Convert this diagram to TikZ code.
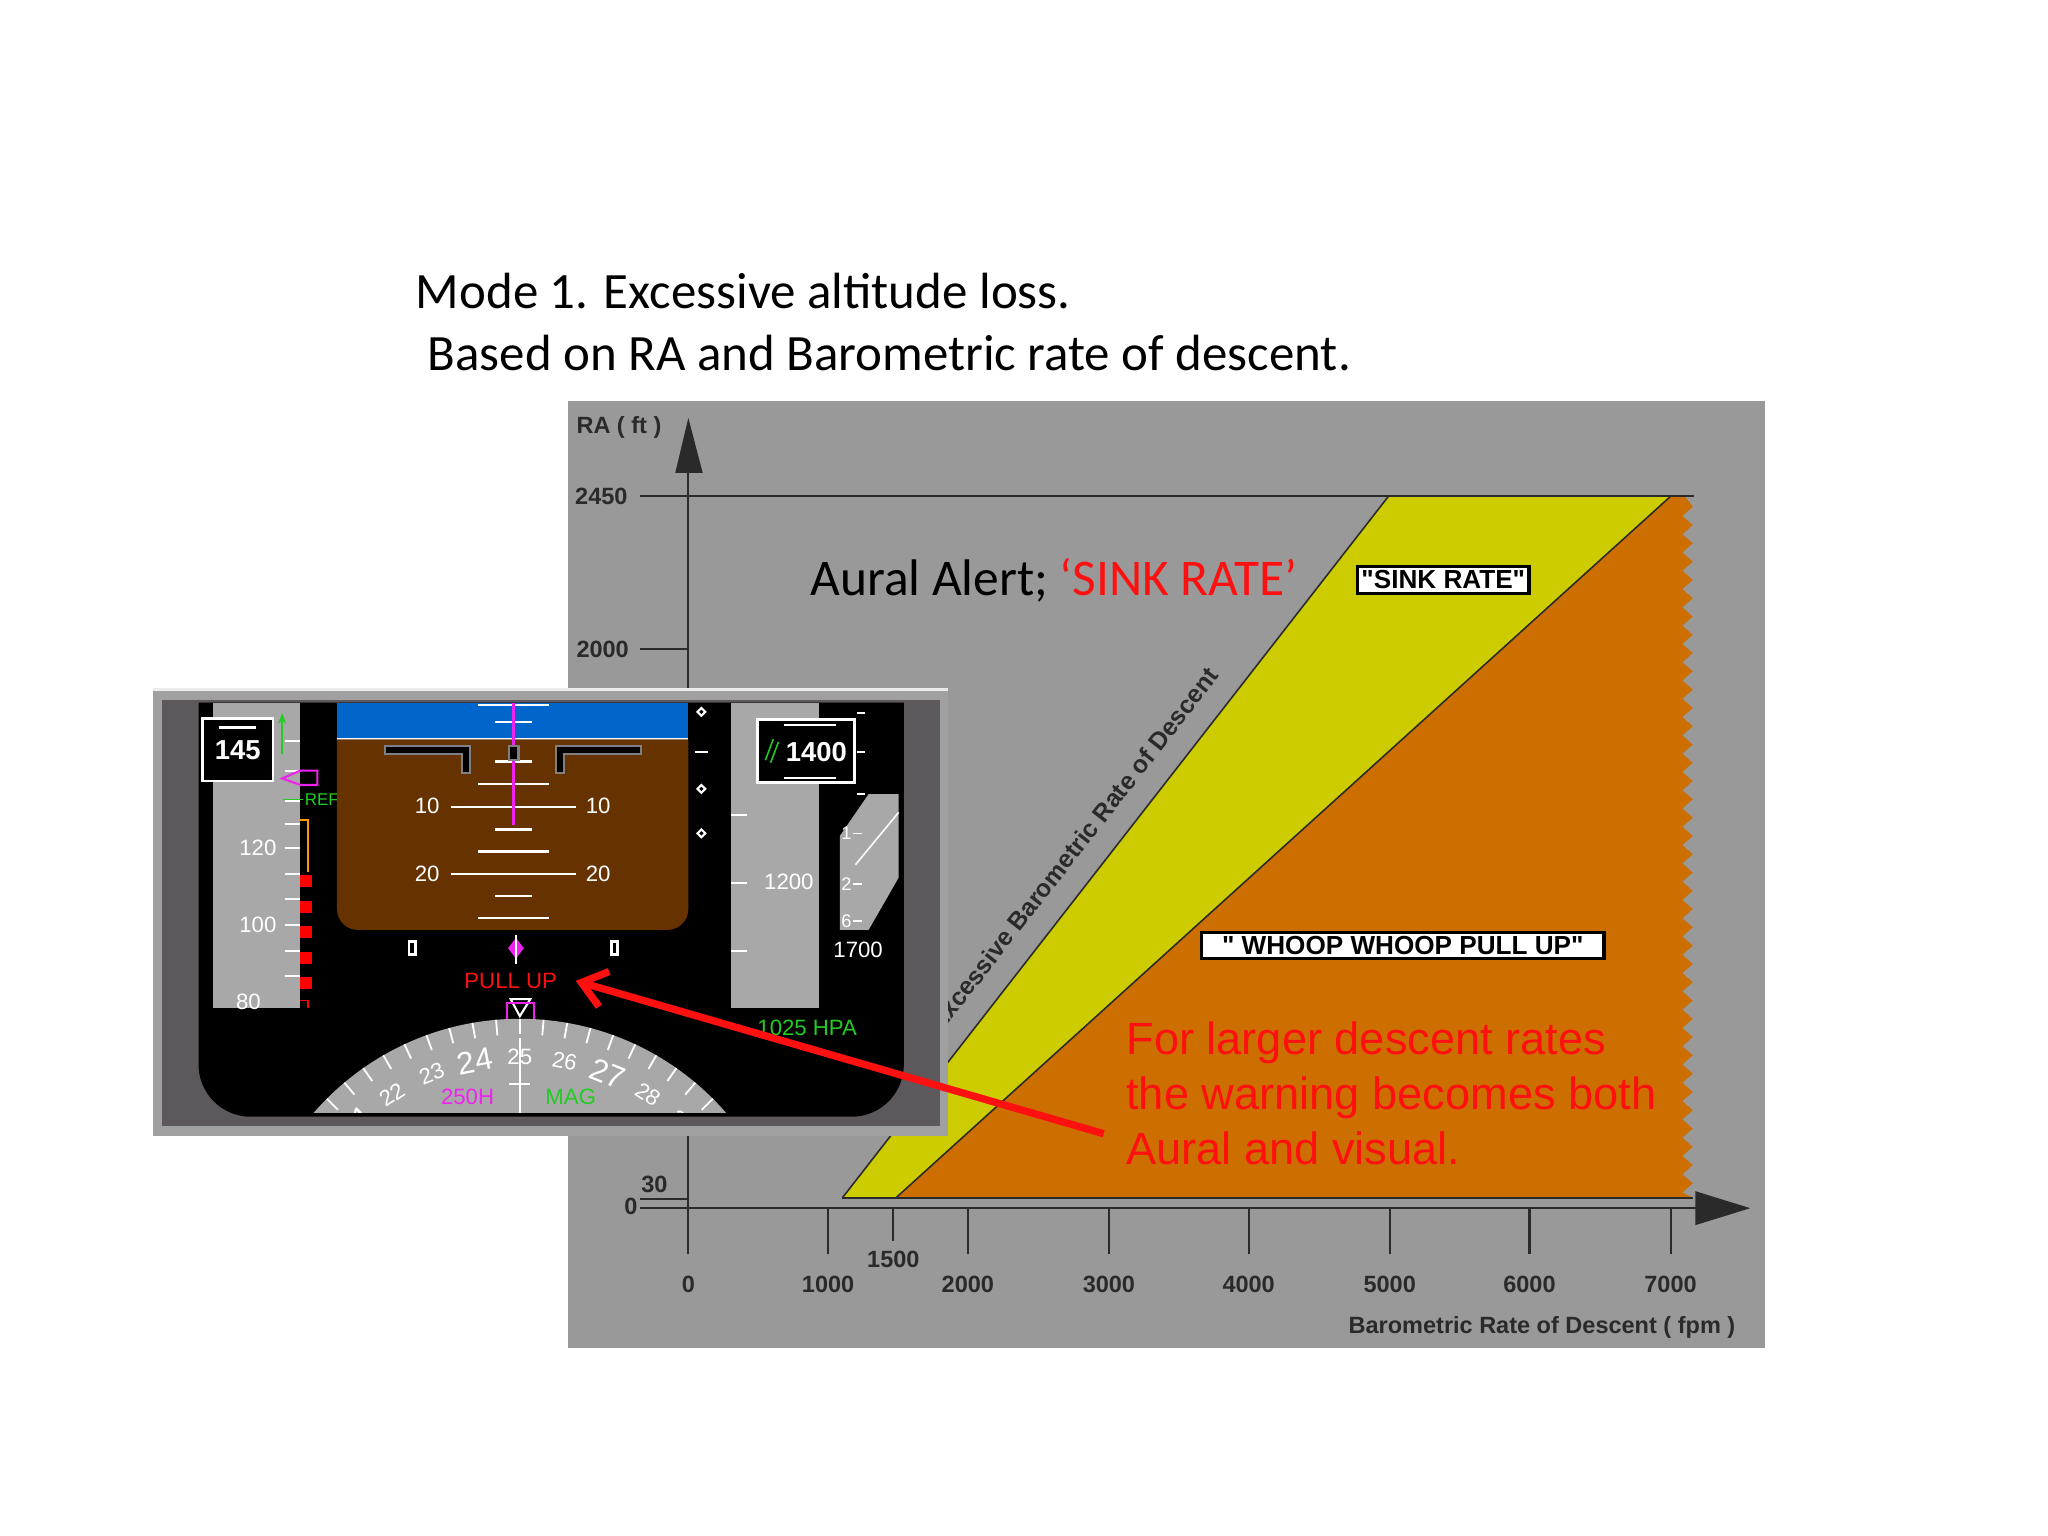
\documentclass[tikz,border=0pt]{standalone}
\usepackage{fontspec}
\setmainfont{Carlito}
\newfontfamily\arialf{Liberation Sans}
\usetikzlibrary{arrows.meta,calc}
\definecolor{chartgray}{HTML}{999999}
\definecolor{ylw}{HTML}{CCCC00}
\definecolor{org}{HTML}{CC6E00}
\definecolor{axisc}{HTML}{2A2A2A}
\definecolor{pfdframe}{HTML}{A0A0A0}
\definecolor{pfdpanel}{HTML}{5C585C}
\definecolor{tape}{HTML}{A8A8A8}
\definecolor{sky}{HTML}{0066CC}
\definecolor{ground}{HTML}{663300}
\definecolor{pfdgreen}{HTML}{22CC22}
\definecolor{pfdmag}{HTML}{EE22EE}
\definecolor{alertred}{HTML}{FF1010}
\tikzset{
  axlab/.style={font=\arialf\bfseries\fontsize{9}{10}\selectfont, text=axisc, inner sep=0},
  axline/.style={draw=axisc, line width=0.8pt},
  msgbox/.style={draw=black, line width=1.2pt, fill=white, font=\arialf\bfseries\fontsize{10}{11}\selectfont, inner sep=1.5pt},
  pfdtxt/.style={font=\arialf\fontsize{8.5}{9}\selectfont, text=white, inner sep=0},
  pfdline/.style={draw=white, line width=0.9pt},
}
\begin{document}
\begin{tikzpicture}[x=0.5pt,y=-0.5pt]
\useasboundingbox (0,0) rectangle (1568,1176);
% titles
\node[anchor=base west, inner sep=0, font=\fontsize{19.5}{22}\selectfont] (t1) at (318,236) {Mode 1. Excessive altitude loss.};
\node[anchor=base west, inner sep=0, font=\fontsize{19.5}{22}\selectfont] (t2) at (327,284) {Based on RA and Barometric rate of descent.};
% chart background
\fill[chartgray] (435,307) rectangle (1351,1032);
% regions
\fill[ylw] (645,917) -- (1063,380) -- (1279,380) -- (686,917) -- cycle;
\fill[org] (686,917) -- (1279,380) -- (1290,380)
  \foreach \i in {0,...,37} { -- (1296,{388+\i*14}) -- (1288,{395+\i*14}) } -- (1296,917) -- cycle;
\draw[axisc, line width=0.6pt] (645,917) -- (1063,380);
\draw[axisc, line width=0.6pt] (686,917) -- (1279,380);
\draw[axisc, line width=0.6pt] (645,917) -- (1296,917);
% rotated label
\node[rotate=52, font=\arialf\bfseries\fontsize{9.5}{10}\selectfont, text=axisc, inner sep=0] (exc) at (822,650) {Excessive Barometric Rate of Descent};
% axes
\draw[axline] (527,925) -- (527,360);
\fill[axisc] (517,362) -- (527,320) -- (538,362) -- cycle;
\draw[axline] (527,925) -- (1300,925);
\fill[axisc] (1298,912) -- (1340,925) -- (1298,938) -- cycle;
\draw[axline] (490,380) -- (1297,380);
\draw[axline] (490,497) -- (527,497);
\draw[axline] (490,918) -- (527,918);
\draw[axline] (490,925) -- (527,925);
\node[axlab, anchor=west] (ra) at (441,327) {RA ( ft )};
\node[axlab, anchor=west] (l2450) at (440,380) {2450};
\node[axlab, anchor=west] (l2000) at (441,497) {2000};
\node[axlab] (l30) at (501,907) {30};
\node[axlab] (l0y) at (483,924) {0};
\foreach \v/\xx in {0/527,1000/634,2000/741,3000/849,4000/956,5000/1064,6000/1171,7000/1279} {
  \draw[axline] (\xx,925) -- (\xx,960);
  \node[axlab] (x\v) at (\xx,983) {\v};
}
\draw[axline] (684,925) -- (684,950);
\node[axlab] (x1500) at (684,964) {1500};
\node[axlab, anchor=east] (xlab) at (1329,1016) {Barometric Rate of Descent ( fpm )};
\node[msgbox] (sink) at (1105,444) {"SINK RATE"};
\node[msgbox, minimum width=154pt] (whoop) at (1074,724) {" WHOOP WHOOP PULL UP"};
\node[anchor=base west, inner sep=0, font=\fontsize{19.7}{24}\selectfont] (aural) at (620,456) {Aural Alert; \textcolor{alertred}{‘SINK RATE’}};
\node[anchor=north west, align=left, inner sep=0, text=alertred, font=\arialf\fontsize{17.3}{21}\selectfont] (big) at (862,782) {For larger descent rates\\the warning becomes both\\Aural and visual.};
% ---------- PFD inset ----------
\fill[pfdframe] (117,527) rectangle (726,870);
\draw[white!85!gray, line width=1pt] (117,528) -- (726,528);
\fill[pfdpanel] (124,536) rectangle (720,862);
\fill[black] (152,538) -- (692,538) [rounded corners=20pt] -- (692,855) -- (152,855) [sharp corners] -- (152,538) -- cycle;
% compass
\begin{scope}
\clip (152,538) rectangle (692,852);
\fill[tape] (398,989) circle[radius=209];
\foreach \a in {0,5,...,180} {
  \draw[white, line width=0.7pt] ($(398,989)+(-\a:209)$) -- ($(398,989)+(-\a:197)$);
}
\foreach \h in {20,...,30} {
  \pgfmathsetmacro{\ang}{-(90-11*(\h-25))}
  \pgfmathsetmacro{\rot}{-11*(\h-25)}
  \pgfmathsetmacro{\fs}{ifthenelse(mod(\h,3)==0,12,8.5)}
  \node[pfdtxt, rotate=\rot, font=\arialf\fontsize{\fs}{12}\selectfont] at ($(398,989)+(\ang:180)$) {\h};
}
\end{scope}
\draw[white, line width=0.8pt] (398,795) -- (398,852);
\draw[white, line width=0.8pt] (390,830) -- (406,830);
% speed tape
\fill[tape] (163,538) rectangle (230,772);
\foreach \yy in {567,590,613,631,649,669,688,708,728,747} \draw[white, line width=0.8pt] (218,\yy) -- (230,\yy);
\node[pfdtxt, anchor=east] (s120) at (212,649) {120};
\node[pfdtxt, anchor=east] (s100) at (212,708) {100};
\node[pfdtxt, anchor=east] (s80) at (200,767) {80};
\foreach \yy in {670,690,709,729,748} \fill[red] (230,\yy) rectangle (239,{\yy+9});
\draw[orange!80!yellow, line width=0.6pt] (230,628) -- (236,628) -- (236,668);
\draw[red, line width=0.6pt] (230,766) -- (236,766) -- (236,772);
\node[draw=white, line width=1pt, fill=black, minimum width=27pt, minimum height=24pt, inner sep=0] (spd) at (182,574) {};
\node[pfdtxt, font=\arialf\bfseries\fontsize{10.5}{11}\selectfont] (s145) at (182,574) {145};
\draw[white, line width=0.8pt] (168,557) -- (196,557);
\draw[pfdgreen, line width=0.8pt, -{Stealth[length=4pt]}] (216,577) -- (216,546);
\draw[pfdmag, line width=0.8pt] (243,590) -- (243,601) -- (230,601) -- (216,596) -- (230,590) -- cycle;
\draw[pfdgreen, line width=0.6pt] (217,612) -- (232,612);
\node[pfdtxt, anchor=west, text=pfdgreen, font=\arialf\fontsize{6.5}{7}\selectfont] (ref) at (233,612) {REF};
% attitude
\fill[sky] (258,538) rectangle (527,566);
\draw[white, line width=1pt] (258,566) -- (527,566);
\fill[ground] (258,566) -- (527,566) [rounded corners=8pt] -- (527,712) -- (258,712) [sharp corners] -- (258,566) -- cycle;
\foreach \yy/\w in {540/27,553/14,583/14,600/27,618/48,635/14,652/27,669/48,686/14,703/27} \draw[pfdline] ({393-\w},\yy) -- ({393+\w},\yy);
\node[pfdtxt] (p10l) at (327,617) {10};
\node[pfdtxt] (p10r) at (458,617) {10};
\node[pfdtxt] (p20l) at (327,669) {20};
\node[pfdtxt] (p20r) at (458,669) {20};
\draw[pfdmag, line width=1.2pt] (393,538) -- (393,632);
\fill[black, draw=gray, line width=0.8pt] (295,571) -- (360,571) -- (360,592) -- (354,592) -- (354,577) -- (295,577) -- cycle;
\fill[black, draw=gray, line width=0.8pt] (491,571) -- (426,571) -- (426,592) -- (432,592) -- (432,577) -- (491,577) -- cycle;
\draw[gray, line width=0.8pt, fill=black] (390,571) rectangle (397,582);
\draw[white, line width=1pt] (313,721) rectangle (318,731);
\draw[white, line width=1pt] (468,721) rectangle (473,731);
\fill[pfdmag] (389,726) -- (395,718) -- (401,726) -- (395,734) -- cycle;
\draw[white, line width=0.6pt] (395,716) -- (395,738);
\node[pfdtxt, text=alertred] (pullup) at (391,751) {PULL UP};
\draw[white, line width=0.8pt] (391,765) -- (406,765) -- (398,778) -- cycle;
\draw[pfdmag, line width=0.8pt] (388,780) -- (388,768) -- (409,768) -- (409,780);
\node[pfdtxt, text=pfdmag] (h250) at (358,840) {250H};
\node[pfdtxt, text=pfdgreen] (mag) at (437,840) {MAG};
% right scale dots
\foreach \yy in {545,604,638} \draw[white, line width=0.8pt] (534,\yy) -- (537,{\yy-3}) -- (540,\yy) -- (537,{\yy+3}) -- cycle;
\draw[white, line width=0.8pt] (532,576) -- (542,576);
% altitude tape
\fill[tape] (560,538) rectangle (627,772);
\foreach \yy in {624,676,728} \draw[white, line width=0.8pt] (560,\yy) -- (572,\yy);
\node[pfdtxt] (a1200) at (604,675) {1200};
\node[pfdtxt] (a1700) at (657,727) {1700};
\node[draw=white, line width=1pt, fill=black, minimum width=37pt, minimum height=24pt, inner sep=0] (alt) at (617,575) {};
\node[pfdtxt, font=\arialf\bfseries\fontsize{10.5}{11}\selectfont] (a1400) at (625,576) {1400};
\draw[pfdgreen, line width=0.6pt] (586,582) -- (592,566) (590,584) -- (596,568);
\draw[white, line width=0.8pt] (600,555) -- (640,555) (600,596) -- (640,596);
\foreach \yy in {546,576,608} \draw[white, line width=0.8pt] (656,\yy) -- (662,\yy);
% vertical speed
\fill[tape] (643,640) -- (665,608) -- (688,608) -- (688,672) -- (665,712) -- (643,712) -- cycle;
\draw[white, line width=0.6pt] (655,662) -- (688,622);
\node[pfdtxt, font=\arialf\fontsize{7}{8}\selectfont] (v1) at (648,638) {1};
\node[pfdtxt, font=\arialf\fontsize{7}{8}\selectfont] (v2) at (648,677) {2};
\node[pfdtxt, font=\arialf\fontsize{7}{8}\selectfont] (v6) at (648,705) {6};
\foreach \yy in {638,677,705} \draw[white, line width=0.6pt] (653,\yy) -- (660,\yy);
\node[pfdtxt, text=pfdgreen] (hpa) at (618,787) {1025 HPA};
% red arrow
\coordinate (arrS) at (845,868);
\draw[alertred, line width=2.8pt, -{Straight Barb[length=9pt,width=14pt]}] (arrS) -- ($(pullup.east)+(14,0)$);
\end{tikzpicture}
\end{document}
